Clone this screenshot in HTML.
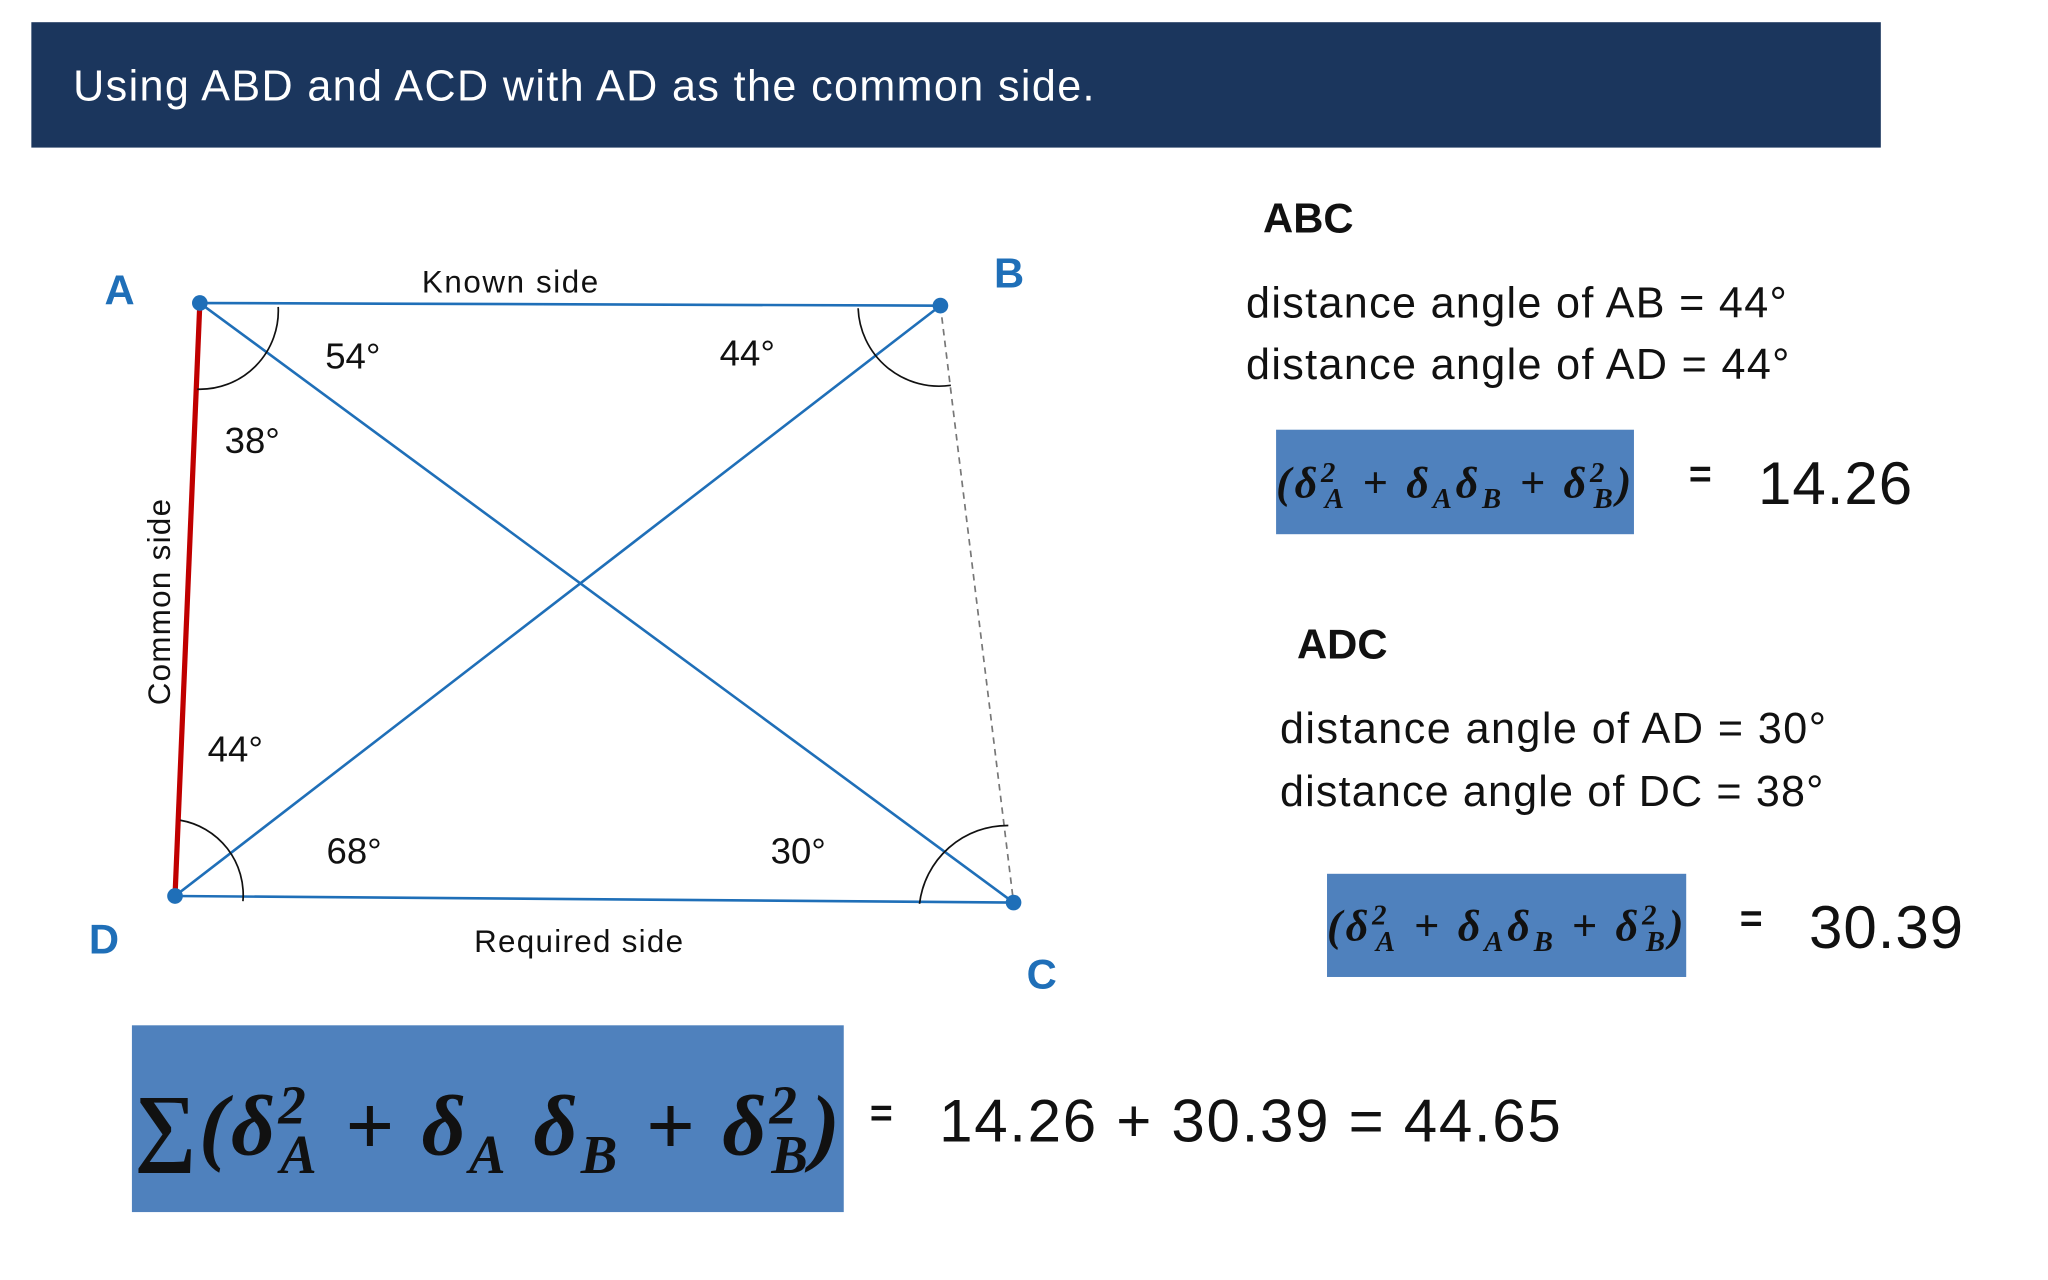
<!DOCTYPE html>
<html><head><meta charset="utf-8"><style>
html,body{margin:0;padding:0;background:#fff;}
svg{display:block;}
.f{font-family:"Liberation Serif",serif;font-style:italic;font-weight:bold;fill:#111;}
</style></head><body>
<svg width="2048" height="1280" viewBox="0 0 1568 980" xmlns="http://www.w3.org/2000/svg" font-family="Liberation Sans, sans-serif">
<rect x="0" y="0" width="1568" height="980" fill="#fff"/>
<rect x="24" y="17" width="1416" height="96" fill="#1b365d"/>
<text x="56" y="77" font-size="33" fill="#fff" textLength="782" lengthAdjust="spacing">Using ABD and ACD with AD as the common side.</text>

<line x1="153" y1="232" x2="720" y2="234" stroke="#1f6fb8" stroke-width="2"/>
<line x1="134" y1="686" x2="776" y2="691" stroke="#1f6fb8" stroke-width="2"/>
<line x1="153" y1="232" x2="776" y2="691" stroke="#1f6fb8" stroke-width="2"/>
<line x1="720" y1="234" x2="134" y2="686" stroke="#1f6fb8" stroke-width="2"/>
<line x1="720" y1="234" x2="776" y2="691" stroke="#777" stroke-width="1.3" stroke-dasharray="5,4"/>
<line x1="153" y1="232" x2="134" y2="686" stroke="#c00000" stroke-width="4"/>
<g fill="none" stroke="#111" stroke-width="1.3">
<path d="M213 235 A60 60 0 0 1 151 298"/>
<path d="M657 236 A62 62 0 0 0 728 295"/>
<path d="M138 628 A58 58 0 0 1 186 690"/>
<path d="M704 692 A68 68 0 0 1 772 632"/>
</g>
<g fill="#1f6fb8"><circle cx="153" cy="232" r="6"/><circle cx="720" cy="234" r="6"/><circle cx="134" cy="686" r="6"/><circle cx="776" cy="691" r="6"/></g>
<g fill="#1f6fb8" font-weight="bold" font-size="32">
<text x="80" y="233">A</text><text x="761" y="220">B</text><text x="68" y="730">D</text><text x="786" y="757">C</text>
</g>
<g font-size="24" fill="#111">
<text x="323" y="224" textLength="135" lengthAdjust="spacing">Known side</text>
<text x="363" y="729" textLength="160" lengthAdjust="spacing">Required side</text>
<text transform="translate(130,540) rotate(-90)" textLength="158" lengthAdjust="spacing">Common side</text>
</g>
<g font-size="28" fill="#111">
<text x="249" y="282">54°</text><text x="551" y="280">44°</text>
<text x="172" y="347">38°</text><text x="159" y="583">44°</text>
<text x="250" y="661">68°</text><text x="590" y="661">30°</text>
</g>

<text x="967" y="178" font-size="32" font-weight="bold" fill="#111">ABC</text>
<text x="954" y="243" font-size="33" fill="#111" textLength="414" lengthAdjust="spacing">distance angle of AB = 44°</text>
<text x="954" y="290" font-size="33" fill="#111" textLength="416" lengthAdjust="spacing">distance angle of AD = 44°</text>
<rect x="977" y="329" width="274" height="80" fill="#4f81bd"/>
<text class="f" x="977" y="381" font-size="34" textLength="272" lengthAdjust="spacing">(δ<tspan font-size="22" dy="-12">2</tspan><tspan font-size="22" dx="-11" dy="20">A</tspan><tspan dy="-8"> + δ</tspan><tspan font-size="22" dy="8">A</tspan><tspan dy="-8">δ</tspan><tspan font-size="22" dy="8">B</tspan><tspan dy="-8"> + δ</tspan><tspan font-size="22" dy="-12">2</tspan><tspan font-size="22" dx="-11" dy="20">B</tspan><tspan dy="-8">)</tspan></text>
<text x="1293" y="373" font-size="30" font-weight="bold" fill="#111">=</text>
<text x="1346" y="386" font-size="46" fill="#111" textLength="118" lengthAdjust="spacing">14.26</text>

<text x="993" y="504" font-size="32" font-weight="bold" fill="#111">ADC</text>
<text x="980" y="569" font-size="33" fill="#111" textLength="418" lengthAdjust="spacing">distance angle of AD = 30°</text>
<text x="980" y="617" font-size="33" fill="#111" textLength="416" lengthAdjust="spacing">distance angle of DC = 38°</text>
<rect x="1016" y="669" width="275" height="79" fill="#4f81bd"/>
<text class="f" x="1016" y="720" font-size="34" textLength="273" lengthAdjust="spacing">(δ<tspan font-size="22" dy="-12">2</tspan><tspan font-size="22" dx="-11" dy="20">A</tspan><tspan dy="-8"> + δ</tspan><tspan font-size="22" dy="8">A</tspan><tspan dy="-8">δ</tspan><tspan font-size="22" dy="8">B</tspan><tspan dy="-8"> + δ</tspan><tspan font-size="22" dy="-12">2</tspan><tspan font-size="22" dx="-11" dy="20">B</tspan><tspan dy="-8">)</tspan></text>
<text x="1332" y="713" font-size="30" font-weight="bold" fill="#111">=</text>
<text x="1385" y="726" font-size="46" fill="#111" textLength="118" lengthAdjust="spacing">30.39</text>

<rect x="101" y="785" width="545" height="143" fill="#4f81bd"/>
<text class="f" x="103" y="884" font-size="66" textLength="540" lengthAdjust="spacing">∑(δ<tspan font-size="42" dy="-24">2</tspan><tspan font-size="42" dx="-22" dy="38">A</tspan><tspan dy="-14"> + δ</tspan><tspan font-size="42" dy="14">A</tspan><tspan dy="-14"> δ</tspan><tspan font-size="42" dy="14">B</tspan><tspan dy="-14"> + δ</tspan><tspan font-size="42" dy="-24">2</tspan><tspan font-size="42" dx="-22" dy="38">B</tspan><tspan dy="-14">)</tspan></text>
<text x="666" y="862" font-size="30" font-weight="bold" fill="#111">=</text>
<text x="719" y="874" font-size="46" fill="#111" textLength="476" lengthAdjust="spacing">14.26 + 30.39  =  44.65</text>
</svg>
</body></html>
